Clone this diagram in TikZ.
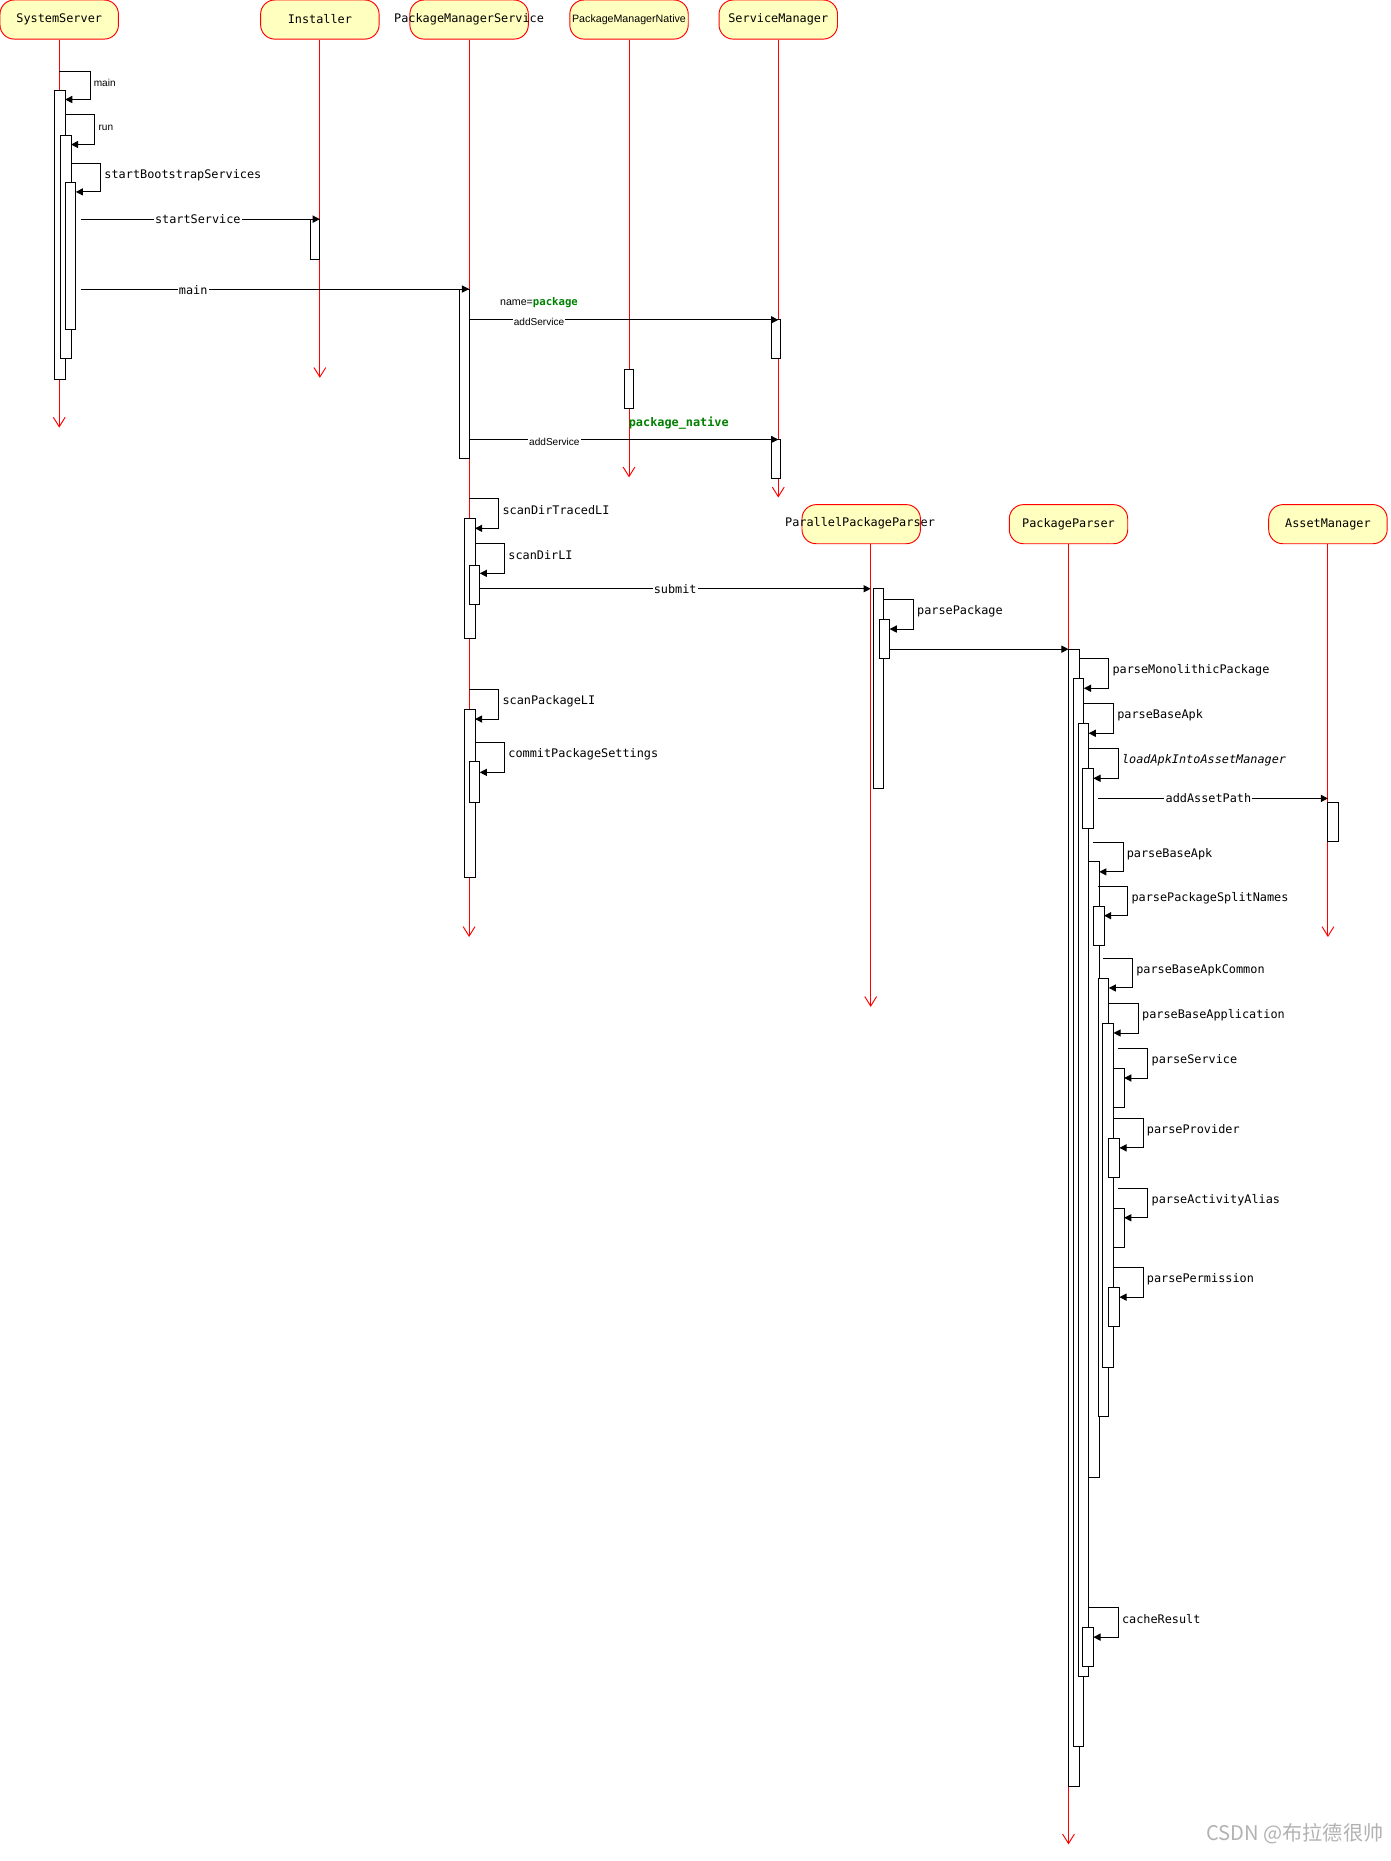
\documentclass[tikz,border=0pt]{standalone}
\usepackage{fontspec}
\setmainfont{Liberation Sans}
\newfontfamily\mono{DejaVu Sans Mono}
\newfontfamily\cjk{Noto Sans CJK SC}
\usetikzlibrary{arrows.meta}
\definecolor{hdr}{HTML}{FFFFC0}
\definecolor{grn}{HTML}{008000}
\tikzset{
  head/.style={draw=red,fill=hdr,rounded corners=12pt,minimum width=100pt,minimum height=33pt,inner sep=0pt,line width=0.8pt,font=\mono\fontsize{10}{12}\selectfont},
  life/.style={draw=red,line width=0.8pt,-{Straight Barb[length=8pt,width=10pt]}},
  act/.style={draw=black,fill=white,line width=0.8pt},
  msg/.style={draw=black,line width=0.8pt,-{Triangle[length=6pt,width=6pt]}},
  mlab/.style={fill=white,inner sep=1pt,font=\mono\fontsize{10}{12}\selectfont},
  slab/.style={fill=white,inner sep=1pt,font=\fontsize{8.5}{10}\selectfont},
  llab/.style={anchor=west,inner sep=1pt,font=\mono\fontsize{10}{12}\selectfont},
}
\newcommand\selfloop[5]{% startx, y, arrow end x, label, name
  \coordinate (#5a) at (#1,#2);
  \coordinate (#5b) at (#1+25,#2);
  \coordinate (#5c) at (#1+25,#2+25);
  \coordinate (#5d) at (#3,#2+25);
  \draw[msg] (#5a) -- (#5b) -- (#5c) -- (#5d);
  \node[llab] (#5l) at (#1+27,#2+10) {#4};
}
\newcommand\actbox[5]{\draw[act] (#1,#2) rectangle (#3,#4); \coordinate (#5) at (#1,#2);}
\begin{document}
\begin{tikzpicture}[x=1pt,y=-1pt]
\path[use as bounding box] (0,0) rectangle (1174,1571);
% heads
\node[head] (ss) at (50,16.5) {SystemServer};
\node[head] (ins) at (270,16.5) {Installer};
\node[head] (pms) at (396,16.5) {};
\node[font=\mono\fontsize{10}{12}\selectfont,inner sep=0pt] at (396,16.5) {PackageManagerService};
\node[head] (pmn) at (531,16.5) {};
\node[font=\fontsize{9}{11}\selectfont,inner sep=0pt] at (531,16.5) {PackageManagerNative};
\node[head] (sm) at (657,16.5) {ServiceManager};
\node[head] (ppp) at (727,442.5) {};
\node[font=\mono\fontsize{10}{12}\selectfont,inner sep=0pt] at (726,442) {ParallelPackageParser};
\node[head] (pp) at (902,442.5) {PackageParser};
\node[head] (am) at (1121,442.5) {AssetManager};
% lifelines
\coordinate (ssE) at (50,361); \coordinate (insE) at (270,319); \coordinate (pmsE) at (396,791);
\coordinate (pmnE) at (531,403); \coordinate (smE) at (657,420); \coordinate (pppE) at (735,850);
\coordinate (ppE) at (902,1557); \coordinate (amE) at (1121,791);
\draw[life] (ss.south) -- (ssE);
\draw[life] (ins.south) -- (insE);
\draw[life] (pms.south) -- (pmsE);
\draw[life] (pmn.south) -- (pmnE);
\draw[life] (sm.south) -- (smE);
\draw[life] (735,459) -- (pppE);
\draw[life] (pp.south) -- (ppE);
\draw[life] (am.south) -- (amE);
% SystemServer
\actbox{46}{76}{55}{320}{a1}
\actbox{51}{114}{60}{303}{a2}
\actbox{55}{154}{64}{278}{a3}
\draw[msg] (50,60) -- (76,60) -- (76,84) -- (55,84);
\node[slab,anchor=west] at (78,70) {main};
\draw[msg] (55,97) -- (80,97) -- (80,122) -- (60,122);
\node[slab,anchor=west] at (82,108) {run};
\draw[msg] (60,138) -- (85,138) -- (85,162) -- (64,162);
\node[llab] at (87,148) {startBootstrapServices};
\actbox{262}{185}{270}{219}{ia}
\coordinate (m1s) at (68,185); \coordinate (m1e) at (270,185);
\draw[msg] (m1s) -- (m1e) node[mlab,pos=0.49] {startService};
\actbox{388}{244}{396}{387}{pa}
\coordinate (m2s) at (68,244); \coordinate (m2e) at (396,244);
\draw[msg] (m2s) -- (m2e) node[mlab,pos=0.29,yshift=-1pt] {main};
\node[font=\fontsize{9}{11}\selectfont,inner sep=0pt] at (455,255) {name=\textcolor{grn}{\mono\bfseries package}};
\actbox{651}{270}{659}{303}{sa1}
\coordinate (m3s) at (396,270); \coordinate (m3e) at (657,270);
\draw[msg] (m3s) -- (m3e);
\node[slab] at (455,272) {addService};
\actbox{527}{312}{535}{345}{na}
\node[font=\mono\bfseries\fontsize{10}{12}\selectfont,text=grn,inner sep=0pt] at (573,357) {package\_native};
\actbox{651}{371}{659}{404}{sa2}
\coordinate (m4s) at (396,371); \coordinate (m4e) at (657,371);
\draw[msg] (m4s) -- (m4e);
\node[slab] at (468,373) {addService};
% PMS scans
\actbox{392}{438}{401}{539}{pb}
\selfloop{396}{421}{401}{scanDirTracedLI}{l1}
\actbox{396}{477}{405}{510}{pc}
\selfloop{401}{459}{405}{scanDirLI}{l2}
\actbox{737}{497}{746}{666}{qa}
\coordinate (m5s) at (405,497); \coordinate (m5e) at (735,497);
\draw[msg] (m5s) -- (m5e) node[mlab,pos=0.5] {submit};
\actbox{742}{523}{751}{556}{qb}
\selfloop{746}{506}{751}{parsePackage}{l3}
\actbox{392}{599}{401}{741}{pd}
\selfloop{396}{582}{401}{scanPackageLI}{l4}
\actbox{396}{643}{405}{677}{pe}
\selfloop{401}{627}{405}{commitPackageSettings}{l5}
% PackageParser
\actbox{902}{548}{911}{1508}{r0}
\coordinate (m6s) at (751,548); \coordinate (m6e) at (902,548);
\draw[msg] (m6s) -- (m6e);
\actbox{906}{573}{915}{1474}{r1}
\selfloop{911}{556}{915}{parseMonolithicPackage}{l6}
\actbox{910}{611}{919}{1415}{r2}
\selfloop{915}{594}{919}{parseBaseApk}{l7}
\actbox{914}{649}{923}{699}{r3}
\selfloop{919}{632}{923}{\itshape loadApkIntoAssetManager}{l8}
\actbox{1121}{677}{1130}{710}{aa}
\coordinate (m7s) at (927,674); \coordinate (m7e) at (1121,674);
\draw[msg] (m7s) -- (m7e) node[mlab,pos=0.48] {addAssetPath};
\actbox{919}{727}{928}{1247}{r4}
\selfloop{923}{711}{928}{parseBaseApk}{l9}
\actbox{923}{765}{932}{798}{r5}
\selfloop{927}{748}{932}{parsePackageSplitNames}{l10}
\actbox{927}{826}{936}{1196}{r6}
\selfloop{931}{809}{936}{parseBaseApkCommon}{l11}
\actbox{931}{864}{940}{1154}{r7}
\selfloop{936}{847}{940}{parseBaseApplication}{l12}
\actbox{940}{902}{949}{935}{r8}
\selfloop{944}{885}{949}{parseService}{l13}
\actbox{936}{961}{945}{994}{r9}
\selfloop{940}{944}{945}{parseProvider}{l14}
\actbox{940}{1020}{949}{1053}{r10}
\selfloop{944}{1003}{949}{parseActivityAlias}{l15}
\actbox{936}{1087}{945}{1120}{r11}
\selfloop{940}{1070}{945}{parsePermission}{l16}
\actbox{914}{1374}{923}{1407}{r12}
\selfloop{919}{1357}{923}{cacheResult}{l17}
% watermark
\node[anchor=east,text=black!30,font=\cjk\fontsize{17}{20}\selectfont,inner sep=0pt] (wm) at (1168,1548) {CSDN @布拉德很帅};
\end{tikzpicture}
\end{document}
